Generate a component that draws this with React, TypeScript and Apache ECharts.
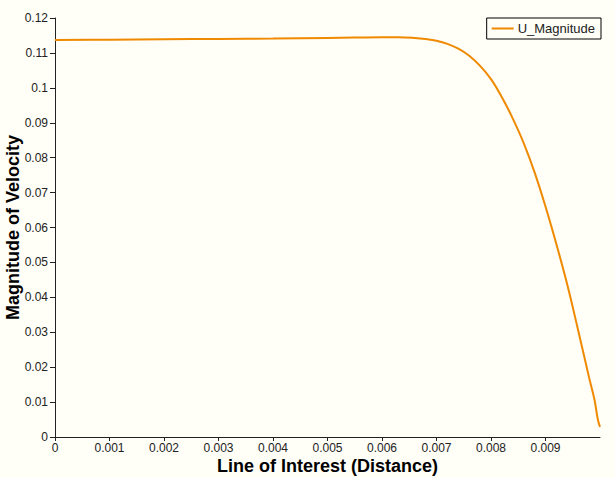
import React, { useEffect, useRef } from "react";
import * as echarts from "echarts";

const seriesName = "U_Magnitude";
const xTitle = "Line of Interest (Distance)";
const yTitle = "Magnitude of Velocity";

const distance = [
  0, 0.001, 0.002, 0.003, 0.004, 0.005, 0.0055, 0.006, 0.0063, 0.0066, 0.0068,
  0.007, 0.0072, 0.0074, 0.0076, 0.0078, 0.008, 0.0082, 0.0084, 0.0086, 0.0088,
  0.009, 0.0092, 0.0094, 0.0096, 0.0098, 0.0099, 0.00996, 0.01,
];
const velocity = [
  0.1137, 0.1138, 0.1139, 0.114, 0.1141, 0.1143, 0.1144, 0.1145, 0.1145, 0.1143,
  0.114, 0.1135, 0.1126, 0.1112, 0.1092, 0.1063, 0.1025, 0.0973, 0.0912, 0.0842,
  0.0758, 0.066, 0.0552, 0.0436, 0.0305, 0.017, 0.0106, 0.005, 0.0029,
];

export default function App() {
  const ref = useRef<HTMLDivElement>(null);
  useEffect(() => {
    if (!ref.current) return;
    const chart = echarts.init(ref.current, undefined, { renderer: "svg" });
    const data = distance.map((d, i) => [d, velocity[i]]);
    chart.setOption({
      animation: false,
      backgroundColor: "#fffef7",
      textStyle: { fontFamily: "Liberation Sans" },
      grid: { left: 55, top: 18, right: 15, bottom: 41, containLabel: false, outerBoundsMode: "none" },
      legend: {
        data: [seriesName],
        right: 14,
        top: 18,
        orient: "vertical",
        borderColor: "#000",
        borderWidth: 1,
        padding: [4, 6, 4, 5],
        icon: "rect",
        itemWidth: 22,
        itemHeight: 2,
        itemGap: 4,
        textStyle: { fontSize: 13, color: "#222", fontFamily: "Liberation Sans", padding: [0, 0, 0, -1] },
      },
      xAxis: {
        type: "value",
        min: 0,
        max: 0.01,
        interval: 0.001,
        name: xTitle,
        nameLocation: "middle",
        nameGap: 20,
        nameMoveOverlap: false,
        nameTextStyle: { fontSize: 18, fontWeight: "bold", color: "#000", fontFamily: "Liberation Sans" },
        axisLine: { show: true, lineStyle: { color: "#222", width: 1 } },
        axisTick: { show: true, length: 4, lineStyle: { color: "#222" } },
        axisLabel: { fontSize: 12, color: "#222", margin: 5, showMaxLabel: false },
        splitLine: { show: false },
      },
      yAxis: {
        type: "value",
        min: 0,
        max: 0.12,
        interval: 0.01,
        name: yTitle,
        nameLocation: "middle",
        nameGap: 33,
        nameMoveOverlap: false,
        nameTextStyle: { fontSize: 18, fontWeight: "bold", color: "#000", fontFamily: "Liberation Sans" },
        axisLine: { show: true, lineStyle: { color: "#222", width: 1 } },
        axisTick: { show: true, length: 5, lineStyle: { color: "#222" } },
        axisLabel: { fontSize: 12, color: "#222", margin: 7 },
        splitLine: { show: false },
      },
      series: [
        {
          name: seriesName,
          type: "line",
          data,
          smooth: 0.4,
          symbol: "none",
          lineStyle: { color: "#ef8a00", width: 2 },
          itemStyle: { color: "#ef8a00" },
        },
      ],
    });
    return () => chart.dispose();
  }, []);
  return (
    <div
      ref={ref}
      style={{ position: "fixed", left: 0, top: 0, width: 615, height: 478 }}
    />
  );
}
